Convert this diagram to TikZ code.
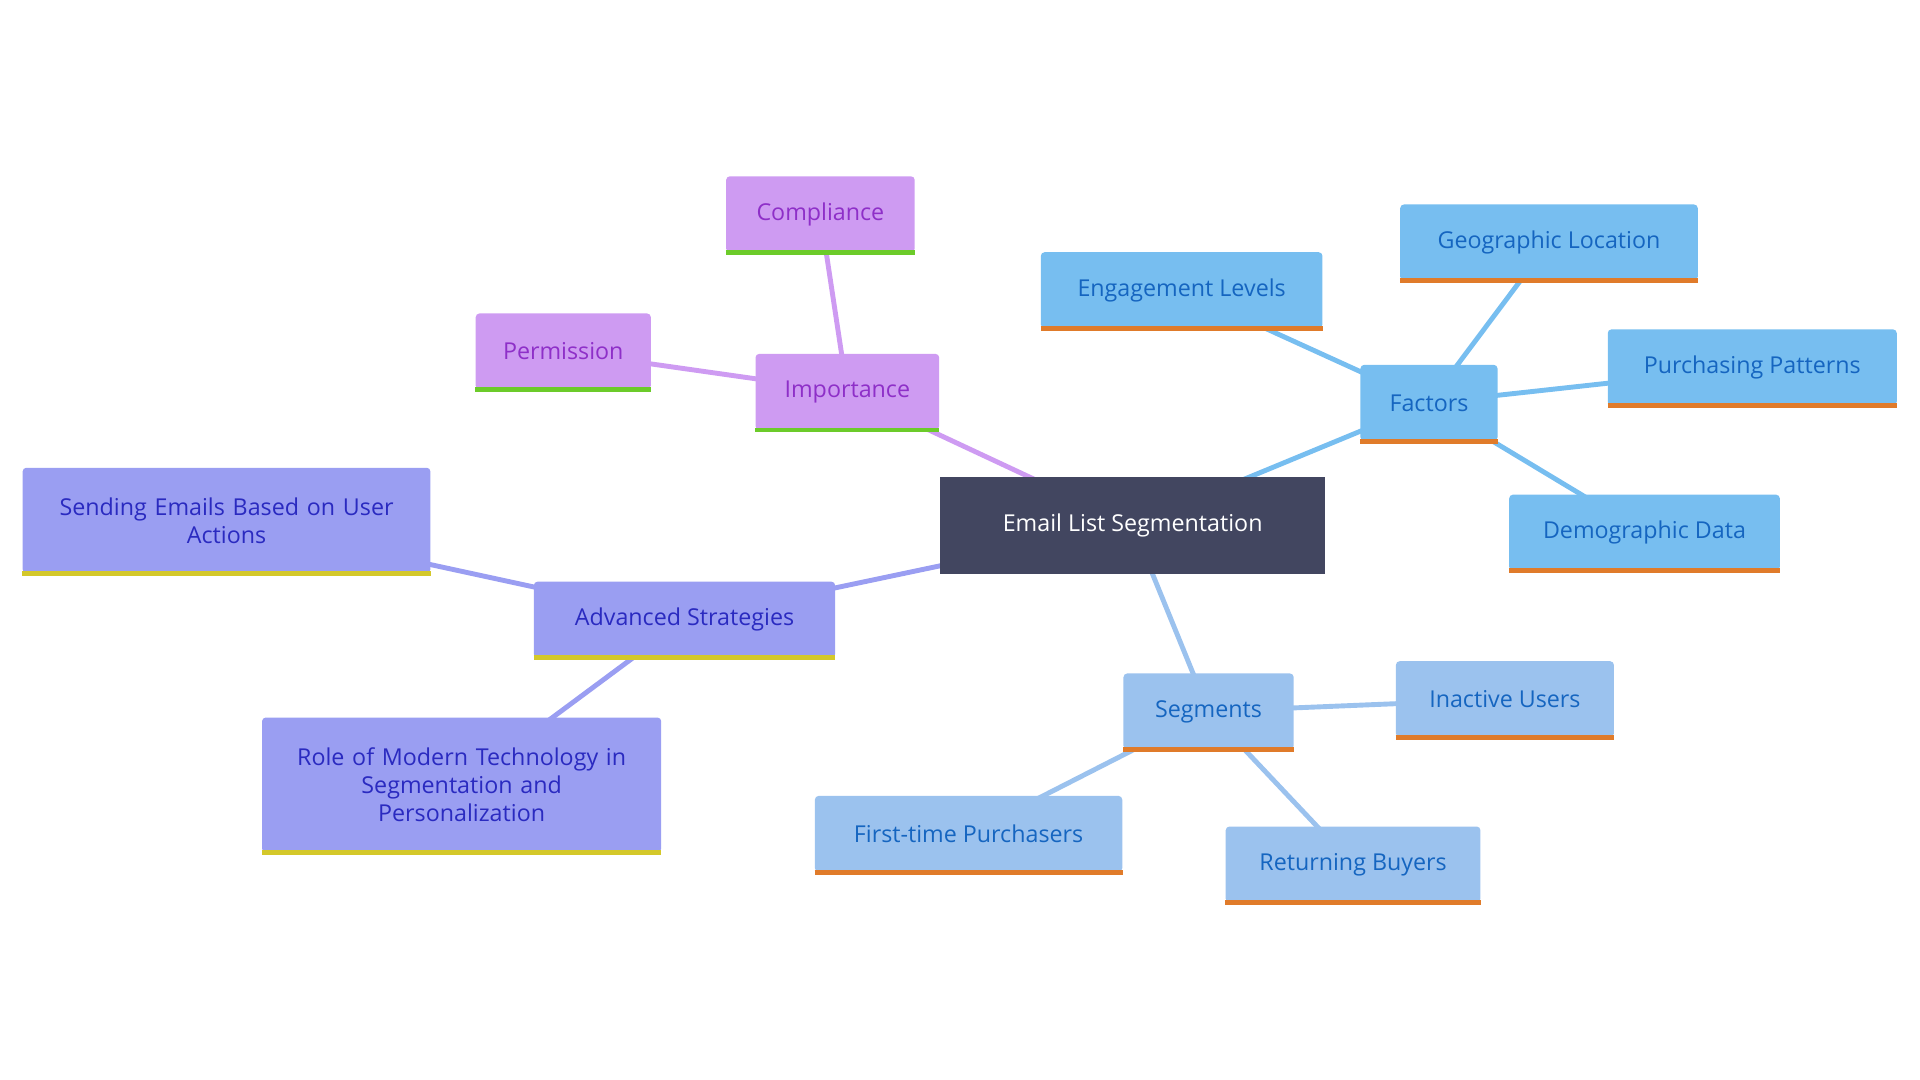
\documentclass[tikz,border=0pt]{standalone}
\usepackage{fontspec}
\setmainfont{Open Sans}
\begin{document}
\begin{tikzpicture}[x=1pt,y=-1pt,
  base/.style={rectangle,rounded corners=3pt,inner sep=0pt,align=center,font=\fontsize{19}{23}\selectfont},
  imp/.style={base,fill=impF,text=impT},
  fac/.style={base,fill=facF,text=facT},
  seg/.style={base,fill=segF,text=facT},
  adv/.style={base,fill=advF,text=advT},
  e/.style={line width=4pt}]
\definecolor{impF}{HTML}{CE9BF2}\definecolor{impT}{HTML}{8E2FC8}\definecolor{impL}{HTML}{6CCB2A}
\definecolor{facF}{HTML}{77BEF0}\definecolor{facT}{HTML}{1565C0}\definecolor{facL}{HTML}{E07B2A}
\definecolor{segF}{HTML}{9BC2EE}
\definecolor{advF}{HTML}{9A9EF2}\definecolor{advT}{HTML}{2A2AC0}\definecolor{advL}{HTML}{D4C82A}
\definecolor{rootF}{HTML}{424660}
\useasboundingbox (0,0) rectangle (1568,882);
\coordinate (rc) at (925,429);
\coordinate (ic) at (692,320); \coordinate (cc) at (670,175); \coordinate (pc) at (460,287);
\coordinate (fc) at (1167,329); \coordinate (ec) at (965,237); \coordinate (gc) at (1265,198);
\coordinate (ppc) at (1431,300); \coordinate (dc) at (1343,435);
\coordinate (sc) at (987,581); \coordinate (iuc) at (1229,571); \coordinate (ftc) at (791,681); \coordinate (rbc) at (1105,706);
\coordinate (ac) at (559,506); \coordinate (sec) at (185,425); \coordinate (rmc) at (377,641);
% edges
\draw[e,impF] (rc)--(ic) (ic)--(cc) (ic)--(pc);
\draw[e,facF] (rc)--(fc) (fc)--(ec) (fc)--(gc) (fc)--(ppc) (fc)--(dc);
\draw[e,segF] (rc)--(sc) (sc)--(iuc) (sc)--(ftc) (sc)--(rbc);
\draw[e,advF] (rc)--(ac) (ac)--(sec) (ac)--(rmc);
% nodes
\node[base,fill=rootF,text=white,rounded corners=0pt,minimum width=314,minimum height=79] (root) at (rc) {Email List Segmentation};
\node[imp,minimum width=150,minimum height=62] (imp) at (ic) {Importance};
\node[imp,minimum width=154,minimum height=62] (comp) at (cc) {Compliance};
\node[imp,minimum width=143,minimum height=62] (perm) at (pc) {Permission};
\node[fac,minimum width=112,minimum height=62] (fac) at (fc) {Factors};
\node[fac,minimum width=230,minimum height=62] (eng) at (ec) {Engagement Levels};
\node[fac,minimum width=243,minimum height=62] (geo) at (gc) {Geographic Location};
\node[fac,minimum width=236,minimum height=62] (pur) at (ppc) {Purchasing Patterns};
\node[fac,minimum width=221,minimum height=62] (dem) at (dc) {Demographic Data};
\node[seg,minimum width=139,minimum height=62] (seg) at (sc) {Segments};
\node[seg,minimum width=178,minimum height=62] (ina) at (iuc) {Inactive Users};
\node[seg,minimum width=251,minimum height=62] (fir) at (ftc) {First-time Purchasers};
\node[seg,minimum width=208,minimum height=62] (ret) at (rbc) {Returning Buyers};
\node[adv,minimum width=246,minimum height=62] (adv) at (ac) {Advanced Strategies};
\node[adv,minimum width=333,minimum height=86,text width=320] (send) at (sec) {Sending Emails Based on User\\Actions};
\node[adv,minimum width=326,minimum height=110,text width=310] (role) at (rmc) {Role of Modern Technology in\\Segmentation and\\Personalization};
\foreach \n in {imp,comp,perm} \draw[impL,line width=4pt] (\n.south west)--(\n.south east);
\foreach \n in {fac,eng,geo,pur,dem,seg,ina,fir,ret} \draw[facL,line width=4pt] (\n.south west)--(\n.south east);
\foreach \n in {adv,send,role} \draw[advL,line width=4pt] (\n.south west)--(\n.south east);
\end{tikzpicture}
\end{document}
